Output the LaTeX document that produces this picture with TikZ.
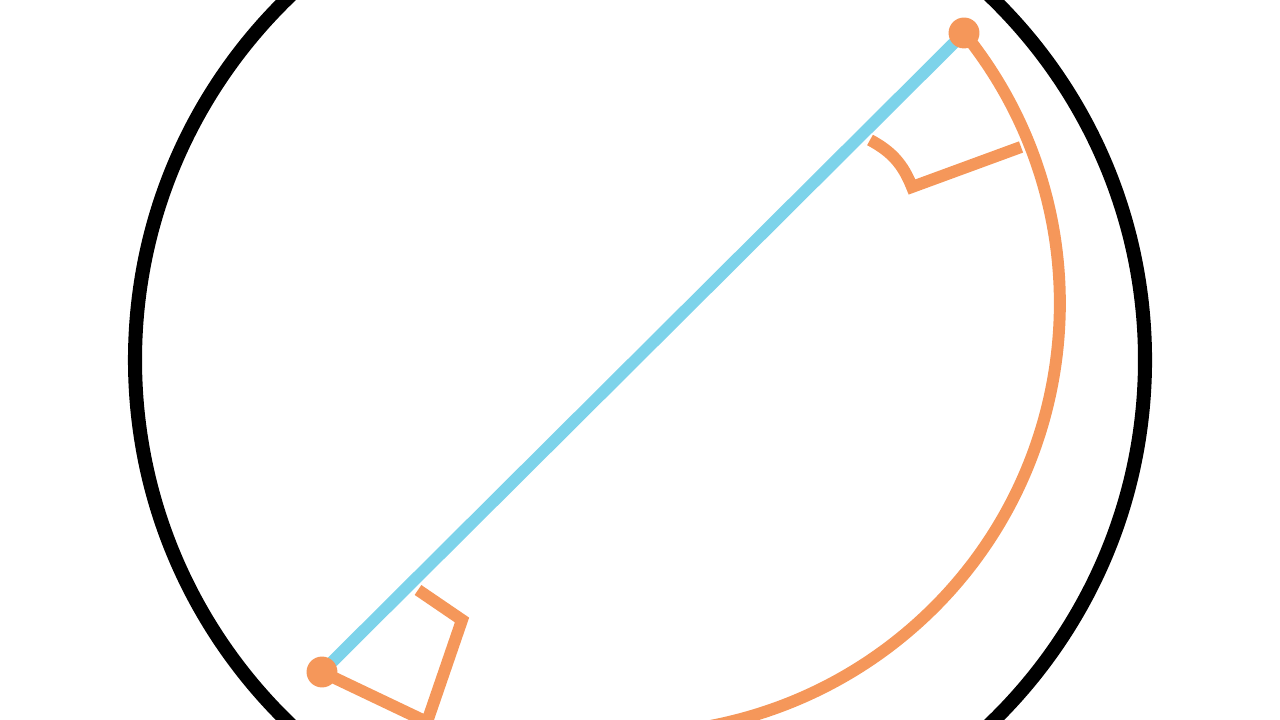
\documentclass[tikz,border=0pt]{standalone}
\usepackage{xcolor}
\usepackage{tikz}
\usetikzlibrary{positioning}
\definecolor{diamblue}{RGB}{125,211,234}
\definecolor{arcorange}{RGB}{245,151,90}
\tikzstyle{rim} = [line width=4pt,black]
\tikzstyle{diameter} = [line width=3.4pt,diamblue]
\tikzstyle{orangeline} = [line width=3.4pt,arcorange]
\tikzstyle{enddot} = [circle,fill=arcorange,inner sep=0pt,minimum size=8.8pt]

\begin{document}
\begin{tikzpicture}
    \useasboundingbox (0,0) rectangle (12.8,7.2);
    \clip (0,0) rectangle (12.8,7.2);
    \coordinate (o) at (6.40,3.60);
    \coordinate (pa) at (3.22,0.48);
    \coordinate (pb) at (9.64,6.87);
    % right angle marks
    \coordinate (ta) at (8.70,5.80);
    \coordinate (tb) at (9.12,5.33);
    \coordinate (tc) at (10.21,5.73);
    \coordinate (qa) at (4.18,1.30);
    \coordinate (qb) at (4.62,1.00);
    \coordinate (qc) at (4.27,-0.02);

    \draw [rim] (o) circle (5.05);
    \draw [diameter] (pa) -- (pb);
    \draw [orangeline] (pb) arc[start angle=39, end angle=-92, radius=4.3];
    \draw [orangeline] (ta) to[bend left=20] (tb) -- (tc);
    \draw [orangeline] (qa) -- (qb) -- (qc) -- (pa);

    \node[enddot] (dota) at (pa) {};
    \node[enddot] (dotb) at (pb) {};
\end{tikzpicture}
\end{document}
